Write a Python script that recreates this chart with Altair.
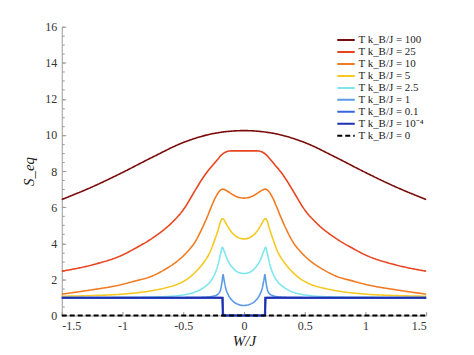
import altair as alt
import pandas as pd

# ---- data ----
W_100 = [-1.5, -1.25, -1.0, -0.75, -0.5, -0.25, 0.0, 0.25, 0.5, 0.75, 1.0, 1.25, 1.5]
S_100 = [6.42, 7.12, 7.92, 8.78, 9.58, 10.08, 10.24, 10.08, 9.58, 8.78, 7.92, 7.12, 6.42]

W_25 = [-1.5, -1.25, -1.0, -0.9, -0.75, -0.6, -0.5, -0.4, -0.35, -0.3, -0.26, -0.22, -0.18, -0.14, -0.1, 0.0,
        0.1, 0.14, 0.18, 0.22, 0.26, 0.3, 0.35, 0.4, 0.5, 0.6, 0.75, 0.9, 1.0, 1.25, 1.5]
S_25 = [2.45, 2.8, 3.35, 3.7, 4.3, 5.1, 5.85, 6.95, 7.5, 7.98, 8.3, 8.62, 8.92, 9.08, 9.12, 9.12,
        9.12, 9.08, 8.92, 8.62, 8.3, 7.98, 7.5, 6.95, 5.85, 5.1, 4.3, 3.7, 3.35, 2.8, 2.45]

W_10 = [-1.5, -1.25, -1.0, -0.9, -0.75, -0.65, -0.55, -0.47, -0.4, -0.35, -0.3, -0.27, -0.23, -0.2, -0.175,
        -0.14, -0.1, -0.06, 0.0, 0.06, 0.1, 0.14, 0.175, 0.2, 0.23, 0.27, 0.3, 0.35, 0.4, 0.47, 0.55, 0.65,
        0.75, 0.9, 1.0, 1.25, 1.5]
S_10 = [1.18, 1.42, 1.72, 1.9, 2.2, 2.55, 3.0, 3.5, 4.1, 4.75, 5.5, 6.0, 6.6, 6.9, 7.0,
        6.9, 6.72, 6.58, 6.5, 6.58, 6.72, 6.9, 7.0, 6.9, 6.6, 6.0, 5.5, 4.75, 4.1, 3.5, 3.0, 2.55,
        2.2, 1.9, 1.72, 1.42, 1.18]

W_5 = [-1.5, -1.25, -1.0, -0.75, -0.65, -0.55, -0.47, -0.4, -0.33, -0.28, -0.24, -0.21, -0.19, -0.178,
       -0.165, -0.14, -0.1, -0.05, 0.0, 0.05, 0.1, 0.14, 0.165, 0.178, 0.19, 0.21, 0.24, 0.28, 0.33, 0.4,
       0.47, 0.55, 0.65, 0.75, 1.0, 1.25, 1.5]
S_5 = [1.06, 1.1, 1.18, 1.38, 1.52, 1.72, 2.0, 2.4, 2.95, 3.5, 4.2, 4.8, 5.25, 5.36,
       5.3, 5.0, 4.6, 4.32, 4.24, 4.32, 4.6, 5.0, 5.3, 5.36, 5.25, 4.8, 4.2, 3.5, 2.95, 2.4,
       2.0, 1.72, 1.52, 1.38, 1.18, 1.1, 1.06]

W_25b = [-1.5, -1.0, -0.7, -0.55, -0.47, -0.4, -0.33, -0.28, -0.24, -0.21, -0.19, -0.178, -0.165, -0.14,
         -0.1, -0.05, 0.0, 0.05, 0.1, 0.14, 0.165, 0.178, 0.19, 0.21, 0.24, 0.28, 0.33, 0.4, 0.47, 0.55,
         0.7, 1.0, 1.5]
S_25b = [0.99, 1.0, 1.03, 1.09, 1.17, 1.3, 1.55, 1.85, 2.3, 2.9, 3.5, 3.78, 3.6, 3.15,
         2.7, 2.4, 2.32, 2.4, 2.7, 3.15, 3.6, 3.78, 3.5, 2.9, 2.3, 1.85, 1.55, 1.3, 1.17, 1.09,
         1.03, 1.0, 0.99]

W_1 = [-1.5, -0.6, -0.4, -0.3, -0.25, -0.21, -0.19, -0.18, -0.172, -0.165, -0.15, -0.13, -0.1, -0.05,
       0.0, 0.05, 0.1, 0.13, 0.15, 0.165, 0.172, 0.18, 0.19, 0.21, 0.25, 0.3, 0.4, 0.6, 1.5]
S_1 = [0.98, 0.98, 0.99, 1.02, 1.07, 1.2, 1.5, 1.9, 2.26, 2.0, 1.5, 1.15, 0.85, 0.62,
       0.55, 0.62, 0.85, 1.15, 1.5, 2.0, 2.26, 1.9, 1.5, 1.2, 1.07, 1.02, 0.99, 0.98, 0.98]

W_01 = [-1.5, -0.19, -0.18, -0.175, -0.17, -0.16, 0.16, 0.17, 0.175, 0.18, 0.19, 1.5]
S_01 = [0.98, 0.98, 0.95, 0.5, 0.05, 0.0, 0.0, 0.05, 0.5, 0.95, 0.98, 0.98]

W_1e4 = [-1.5, -0.175, -0.175, 0.175, 0.175, 1.5]
S_1e4 = [0.98, 0.98, 0.0, 0.0, 0.98, 0.98]

W_0 = [-1.5, 1.5]
S_0 = [0.0, 0.0]

labels = ["T k_B/J = 100", "T k_B/J = 25", "T k_B/J = 10", "T k_B/J = 5", "T k_B/J = 2.5",
          "T k_B/J = 1", "T k_B/J = 0.1", "T k_B/J = 10⁻⁴", "T k_B/J = 0"]
colors = ["#7a0c0c", "#e8441e", "#f07b22", "#f5c823", "#7ee6ef",
          "#5b9be6", "#3a63e0", "#1f2fb0", "#000000"]
dashes = [[1, 0]] * 8 + [[5, 3]]

series = [(W_100, S_100), (W_25, S_25), (W_10, S_10), (W_5, S_5), (W_25b, S_25b),
          (W_1, S_1), (W_01, S_01), (W_1e4, S_1e4), (W_0, S_0)]

rows = []
for k, (lab, (ws, ss)) in enumerate(zip(labels, series)):
    for i, (w, s) in enumerate(zip(ws, ss)):
        rows.append({"W": w, "S": s, "T": lab, "k": k, "i": i})
df = pd.DataFrame(rows)

x_major = [-1.5, -1, -0.5, 0, 0.5, 1, 1.5]
y_major = [0, 2, 4, 6, 8, 10, 12, 14, 16]
y_minor = [v * 0.5 for v in range(33)]

FONT = "Liberation Serif"

xscale = alt.Scale(domain=[-1.5, 1.5], nice=False, zero=False)
yscale = alt.Scale(domain=[0, 16], nice=False)

lines = alt.Chart(df).mark_line(clip=False, interpolate="monotone").encode(
    x=alt.X("W:Q", scale=xscale,
            axis=alt.Axis(values=x_major, title="W/J", labelExpr="datum.value + ''",
                          tickSize=alt.ExprRef("-4"), labelPadding=9, titlePadding=2,
                          titleFontStyle="italic", titleFontWeight="normal", titleFontSize=15)),
    y=alt.Y("S:Q", scale=yscale,
            axis=alt.Axis(values=y_major, title="S_eq", labelExpr="datum.value + ''",
                          tickSize=alt.ExprRef("-4"), labelPadding=9, titlePadding=8,
                          titleFontStyle="italic", titleFontWeight="normal", titleFontSize=15,
                          orient="left")),
    color=alt.Color("T:N", scale=alt.Scale(domain=labels, range=colors), title=None,
                    sort=labels),
    strokeDash=alt.StrokeDash("T:N", scale=alt.Scale(domain=labels, range=dashes), title=None,
                              sort=labels),
    strokeWidth=alt.condition("datum.k >= 6", alt.value(2.0), alt.value(1.6)),
    order="i:Q",
)

minor = alt.Chart(df).mark_line(opacity=0).encode(
    x=alt.X("W:Q", scale=xscale),
    y=alt.Y("S:Q", scale=yscale,
            axis=alt.Axis(values=y_minor, labels=False, domain=False, title=None,
                          tickSize=alt.ExprRef("-2.5"), orient="left")),
    detail="T:N",
)

chart = alt.layer(minor, lines).resolve_axis(y="independent").properties(
    width=366, height=290,
    autosize=alt.AutoSizeParams(type="none"),
    padding={"left": 54, "top": 18, "right": 40, "bottom": 39},
).configure_view(stroke=None).configure_axis(
    grid=False, labelFont=FONT, titleFont=FONT, labelFontSize=12, labelColor="#333333",
    titleColor="#222222", domainColor="#999999", tickColor="#999999", domainWidth=1, tickWidth=1,
).configure_legend(
    orient="none", legendX=279, legendY=7, labelFont=FONT, labelFontSize=11,
    symbolType="M-1.6,0H1.6", symbolSize=120, symbolStrokeWidth=2, rowPadding=0,
    symbolFillColor="transparent",
    labelColor="#222222", labelOffset=6,
)

chart.save("out.html", embed_options={"renderer": "svg", "actions": False})
